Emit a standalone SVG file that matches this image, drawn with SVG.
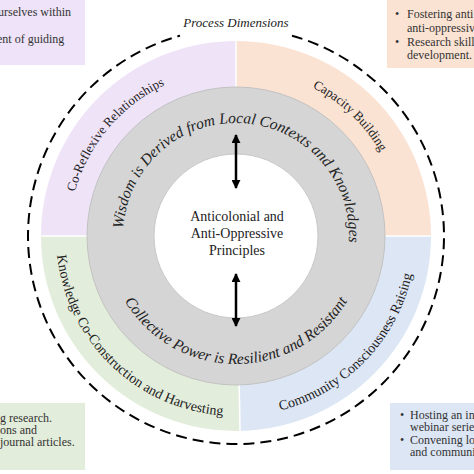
<svg xmlns="http://www.w3.org/2000/svg" width="474" height="474" viewBox="0 0 474 474">
<style>
text{font-family:'Liberation Serif','Times New Roman','DejaVu Serif',serif;fill:#222}
.it{font-style:italic}
.ring{font-size:13px}
.ring2{font-size:14px}
.gray{font-size:15.5px;font-style:italic}
.box{font-size:12px;fill:#333}
.sep{stroke:#fff;stroke-width:1.5}
</style>
<defs>
<marker id="ah" viewBox="0 0 10 10" refX="9" refY="5" markerWidth="3.6" markerHeight="3.6" orient="auto-start-reverse"><path d="M0,0 L10,5 L0,10 z" fill="#000"/></marker>
<path id="pTop" d="M 134.9 286.4 A 113 113 0 1 1 330.2 298.4"/>
<path id="pBot" d="M 122.55 170.5 A 130 130 0 1 0 349.45 170.5"/>
<path id="pCo" d="M 91.4 319.5 A 167 167 0 0 1 293.1 79.1"/>
<path id="pCap" d="M 161.5 86.55 A 167 167 0 0 1 389.2 302.6"/>
<path id="pKn" d="M 86.8 135.3 A 180 180 0 0 0 341.8 381.6"/>
<path id="pCom" d="M 135.3 385.2 A 180 180 0 0 0 381.6 130.2"/>
</defs>
<rect width="474" height="474" fill="#fff"/>

<g id="box-tl">
<rect x="-5" y="-2" width="90" height="67" fill="#eee3f8"/>
<text class="box" x="-2" y="16">urselves within</text>
<text class="box" x="-3" y="43">ent of guiding</text>
</g>
<g id="box-tr">
<rect x="387" y="-2" width="92" height="70" fill="#fbe3d4"/>
<text class="box" x="395" y="18">•</text>
<text class="box" x="407" y="18">Fostering anti</text>
<text class="box" x="407" y="32">anti-oppressiv</text>
<text class="box" x="395" y="46">•</text>
<text class="box" x="407" y="46">Research skill</text>
<text class="box" x="407" y="59">development.</text>
</g>
<g id="box-bl">
<rect x="-5" y="403" width="90" height="67" fill="#e3eddb"/>
<text class="box" x="0" y="422">g research.</text>
<text class="box" x="0" y="434">ons and</text>
<text class="box" x="0" y="446">journal articles.</text>
</g>
<g id="box-br">
<rect x="390" y="403" width="89" height="67" fill="#dde6f4"/>
<text class="box" x="400" y="419">•</text>
<text class="box" x="410" y="419">Hosting an int</text>
<text class="box" x="410" y="431">webinar series</text>
<text class="box" x="400" y="444">•</text>
<text class="box" x="410" y="444">Convening lo</text>
<text class="box" x="410" y="456">and communi</text>
</g>

<g id="process-dimensions">
<path d="M 292 35.7 A 208 208 0 1 1 180 35.7" fill="none" stroke="#000" stroke-width="2" stroke-dasharray="11 6"/>
<text class="it" x="236" y="27" font-size="13" text-anchor="middle">Process Dimensions</text>
</g>

<g id="quad-co-reflexive">
<path d="M236 236 L41 236 A195 195 0 0 1 236 41 Z" fill="#efe3f8"/>
<text class="ring"><textPath href="#pCo" startOffset="50%" text-anchor="middle">Co-Reflexive Relationships</textPath></text>
</g>
<g id="quad-capacity">
<path d="M236 236 L236 41 A195 195 0 0 1 431 236 Z" fill="#fbe3d4"/>
<text class="ring"><textPath href="#pCap" startOffset="50%" text-anchor="middle">Capacity Building</textPath></text>
</g>
<g id="quad-community">
<path d="M236 236 L431 236 A195 195 0 0 1 240 431 Z" fill="#dde6f5"/>
<text class="ring2"><textPath href="#pCom" startOffset="50%" text-anchor="middle">Community Consciousness Raising</textPath></text>
</g>
<g id="quad-knowledge">
<path d="M236 236 L240 431 A195 195 0 0 1 41 236 Z" fill="#e3eddb"/>
<text class="ring2"><textPath href="#pKn" startOffset="50%" text-anchor="middle">Knowledge Co-Construction and Harvesting</textPath></text>
</g>
<g id="separators">
<line class="sep" x1="236" y1="41" x2="236" y2="100"/>
<line class="sep" x1="41" y1="236" x2="100" y2="236"/>
<line class="sep" x1="372" y1="236" x2="431" y2="236"/>
<line class="sep" x1="239" y1="370" x2="240" y2="431"/>
</g>

<g id="principles-ring">
<circle cx="236" cy="236" r="149" fill="#d5d5d5" stroke="#c2c2c2" stroke-width="1"/>
<circle cx="236" cy="236" r="82" fill="#fff" stroke="#c8c8c8" stroke-width="1"/>
<text class="gray"><textPath href="#pTop" startOffset="50%" text-anchor="middle">Wisdom is Derived from Local Contexts and Knowledges</textPath></text>
<text class="gray"><textPath href="#pBot" startOffset="50%" text-anchor="middle">Collective Power is Resilient and Resistant</textPath></text>
</g>

<g id="center">
<text font-size="14" text-anchor="middle" x="237" y="221">Anticolonial and</text>
<text font-size="14" text-anchor="middle" x="237" y="238">Anti-Oppressive</text>
<text font-size="14" text-anchor="middle" x="237" y="255">Principles</text>
</g>

<g id="connectors">
<line x1="236" y1="135" x2="236" y2="188" stroke="#000" stroke-width="2.5" marker-start="url(#ah)" marker-end="url(#ah)"/>
<line x1="236" y1="274" x2="236" y2="326" stroke="#000" stroke-width="2.5" marker-start="url(#ah)" marker-end="url(#ah)"/>
</g>
</svg>
